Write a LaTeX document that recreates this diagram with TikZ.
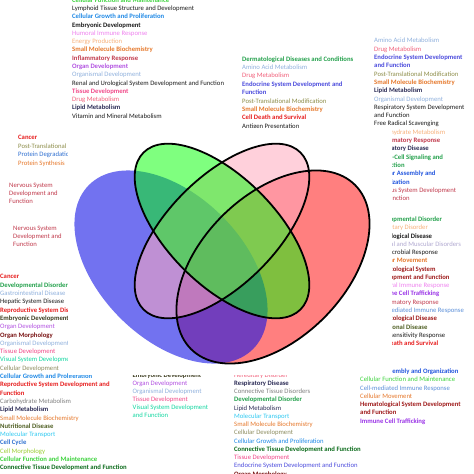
\documentclass[tikz,border=0pt]{standalone}
\usepackage{fontspec}
\setmainfont{Carlito}
\usepackage{tikz}
\usetikzlibrary{calc}
\usepackage{xcolor}

\definecolor{tBlack}{HTML}{1A1A1A}
\definecolor{tLime}{HTML}{3CD23C}
\definecolor{tSky}{HTML}{1E88E5}
\definecolor{tViolet}{HTML}{EE82EE}
\definecolor{tPeach}{HTML}{F6B07A}
\definecolor{tOrange}{HTML}{E5772A}
\definecolor{tCrimson}{HTML}{C0394B}
\definecolor{tPurple}{HTML}{B150E0}
\definecolor{tSteel}{HTML}{8FB0DC}
\definecolor{tPink}{HTML}{F04888}
\definecolor{tRose}{HTML}{F0607A}
\definecolor{tNavy}{HTML}{2B2B55}
\definecolor{tGreen}{HTML}{23A04B}
\definecolor{tIndigo}{HTML}{4B4BDC}
\definecolor{tOlive}{HTML}{8C8C48}
\definecolor{tRed}{HTML}{E61E1E}
\definecolor{tRoyal}{HTML}{2255DD}
\definecolor{tLilac}{HTML}{B0A8D0}
\definecolor{tGray}{HTML}{7F7F7F}
\definecolor{tMaroon}{HTML}{9E1A1A}
\definecolor{tMoss}{HTML}{4E5E22}
\definecolor{tCyan}{HTML}{2EC8F0}
\definecolor{tCobalt}{HTML}{2E6FD0}
\definecolor{tChart}{HTML}{9ACD32}
\definecolor{tForest}{HTML}{0B6B1B}
\definecolor{tAqua}{HTML}{12D6A0}
\definecolor{tKhaki}{HTML}{8B8B5E}
\definecolor{tDeepRed}{HTML}{7A1515}
\definecolor{tGrape}{HTML}{9932E6}
\definecolor{tCornf}{HTML}{5B8FD8}
\definecolor{tUmber}{HTML}{3B3B1E}

\definecolor{setBlue}{RGB}{20,20,230}
\definecolor{setRed}{RGB}{255,0,0}
\definecolor{setPink}{RGB}{255,170,190}
\definecolor{setGreen}{RGB}{0,255,0}

\newcommand{\termfont}{\fontsize{6.7}{8.3}\selectfont}
% one column of terms: name, x, first baseline, step, list
\newcommand{\termlist}[5]{%
  \foreach \clr/\wt/\txt [count=\n from 0] in {#5}
    \node[term, text=\clr, font=\termfont\wt] (#1-\n) at (#2, {#3+#4*\n}) {\txt};}

\begin{document}
\begin{tikzpicture}[x=1pt, y=-1pt,
    term/.style={anchor=base west, inner sep=0pt},
    setfill/.style={fill=#1, draw=none},
    setline/.style={draw=black, line width=1.8pt}]
  \useasboundingbox (0,0) rectangle (474,474);
  \clip (0,0) rectangle (474,474);

  % term lists
  \termlist{tl}{72}{2.2}{8.28}{
    tLime/\bfseries/Cellular Function and Maintenance,
    tBlack/\mdseries/Lymphoid Tissue Structure and Development,
    tSky/\bfseries/Cellular Growth and Proliferation,
    tBlack/\bfseries/Embryonic Development,
    tViolet/\mdseries/Humoral Immune Response,
    tPeach/\mdseries/Energy Production,
    tOrange/\bfseries/Small Molecule Biochemistry,
    tCrimson/\bfseries/Inflammatory Response,
    tPurple/\bfseries/Organ Development,
    tSteel/\mdseries/Organismal Development,
    tBlack/\mdseries/Renal and Urological System Development and Function,
    tPink/\bfseries/Tissue Development,
    tRose/\mdseries/Drug Metabolism,
    tNavy/\bfseries/Lipid Metabolism,
    tBlack/\mdseries/Vitamin and Mineral Metabolism}

  \termlist{tm}{242}{61.2}{8.36}{
    tGreen/\bfseries/Dermatological Diseases and Conditions,
    tSteel/\mdseries/Amino Acid Metabolism,
    tRose/\mdseries/Drug Metabolism,
    tIndigo/\bfseries/Endocrine System Development and,
    tIndigo/\bfseries/Function,
    tOlive/\mdseries/Post-Translational Modification,
    tOrange/\bfseries/Small Molecule Biochemistry,
    tRed/\bfseries/Cell Death and Survival,
    tBlack/\mdseries/Antigen Presentation}

  \termlist{tr}{374}{42.9}{8.3}{
    tSteel/\mdseries/Amino Acid Metabolism,
    tRose/\mdseries/Drug Metabolism,
    tIndigo/\bfseries/Endocrine System Development,
    tIndigo/\bfseries/and Function,
    tOlive/\mdseries/Post-Translational Modification,
    tOrange/\bfseries/Small Molecule Biochemistry,
    tNavy/\bfseries/Lipid Metabolism,
    tSteel/\mdseries/Organismal Development,
    tBlack/\mdseries/Respiratory System Development,
    tBlack/\mdseries/and Function,
    tBlack/\mdseries/Free Radical Scavenging,
    tPeach/\mdseries/Carbohydrate Metabolism,
    tCrimson/\bfseries/Inflammatory Response,
    tNavy/\bfseries/Respiratory Disease,
    tGreen/\bfseries/Cell-To-Cell Signaling and,
    tGreen/\bfseries/Interaction,
    tRoyal/\bfseries/Cellular Assembly and,
    tRoyal/\bfseries/Organization,
    tCrimson/\mdseries/Nervous System Development,
    tCrimson/\mdseries/and Function}

  \termlist{rm}{374}{221.5}{8.27}{
    tGreen/\bfseries/Developmental Disorder,
    tPeach/\mdseries/Hereditary Disorder,
    tBlack/\bfseries/Neurological Disease,
    tLilac/\mdseries/Skeletal and Muscular Disorders,
    tBlack/\mdseries/Antimicrobial Response,
    tOrange/\bfseries/Cellular Movement,
    tMaroon/\bfseries/Hematological System,
    tMaroon/\bfseries/Development and Function,
    tViolet/\mdseries/Humoral Immune Response,
    tGrape/\bfseries/Immune Cell Trafficking,
    tCrimson/\mdseries/Inflammatory Response,
    tCornf/\mdseries/Cell-mediated Immune Response,
    tMaroon/\bfseries/Hematological Disease,
    tMoss/\bfseries/Nutritional Disease,
    tBlack/\mdseries/Hypersensitivity Response,
    tRed/\bfseries/Cell Death and Survival}

  \termlist{br}{360}{373.7}{8.25}{
    tRoyal/\bfseries/Cellular Assembly and Organization,
    tLime/\mdseries/Cellular Function and Maintenance,
    tCornf/\mdseries/Cell-mediated Immune Response,
    tOrange/\mdseries/Cellular Movement,
    tMaroon/\bfseries/Hematological System Development,
    tMaroon/\bfseries/and Function,
    tGrape/\bfseries/Immune Cell Trafficking}

  \termlist{la}{18}{139.5}{8.5}{
    tRed/\bfseries/Cancer,
    tOlive/\mdseries/Post-Translational Modification,
    tCobalt/\mdseries/Protein Degradation,
    tOrange/\mdseries/Protein Synthesis}

  \termlist{lb}{9}{187.5}{8.2}{
    tCrimson/\mdseries/Nervous System,
    tCrimson/\mdseries/Development and,
    tCrimson/\mdseries/Function}

  \termlist{lc}{13}{230.5}{8.0}{
    tCrimson/\mdseries/Nervous System,
    tCrimson/\mdseries/Development and,
    tCrimson/\mdseries/Function}

  \termlist{ld}{0}{278.9}{8.3}{
    tRed/\bfseries/Cancer,
    tGreen/\bfseries/Developmental Disorder,
    tSteel/\mdseries/Gastrointestinal Disease,
    tBlack/\mdseries/Hepatic System Disease,
    tRed/\bfseries/Reproductive System Disease,
    tUmber/\bfseries/Embryonic Development,
    tPurple/\mdseries/Organ Development,
    tDeepRed/\bfseries/Organ Morphology,
    tSteel/\mdseries/Organismal Development,
    tPink/\mdseries/Tissue Development,
    tAqua/\mdseries/Visual System Development,
    tKhaki/\mdseries/Cellular Development,
    tSky/\bfseries/Cellular Growth and Proliferation,
    tRed/\bfseries/Reproductive System Development and,
    tRed/\bfseries/Function,
    tGray/\mdseries/Carbohydrate Metabolism,
    tNavy/\bfseries/Lipid Metabolism,
    tOrange/\mdseries/Small Molecule Biochemistry,
    tMoss/\bfseries/Nutritional Disease,
    tCyan/\mdseries/Molecular Transport,
    tCobalt/\bfseries/Cell Cycle,
    tChart/\mdseries/Cell Morphology,
    tLime/\bfseries/Cellular Function and Maintenance,
    tForest/\bfseries/Connective Tissue Development and Function}

  \termlist{ba}{132.5}{377.2}{8.15}{
    tUmber/\bfseries/Embryonic Development,
    tPurple/\mdseries/Organ Development,
    tSteel/\mdseries/Organismal Development,
    tPink/\mdseries/Tissue Development,
    tAqua/\mdseries/Visual System Development,
    tAqua/\mdseries/and Function}

  \termlist{bb}{234}{377.2}{8.25}{
    tRose/\mdseries/Hereditary Disorder,
    tNavy/\bfseries/Respiratory Disease,
    tGray/\mdseries/Connective Tissue Disorders,
    tGreen/\bfseries/Developmental Disorder,
    tNavy/\mdseries/Lipid Metabolism,
    tCyan/\mdseries/Molecular Transport,
    tOrange/\mdseries/Small Molecule Biochemistry,
    tKhaki/\mdseries/Cellular Development,
    tSky/\mdseries/Cellular Growth and Proliferation,
    tForest/\bfseries/Connective Tissue Development and Function,
    tPink/\mdseries/Tissue Development,
    tIndigo/\mdseries/Endocrine System Development and Function,
    tDeepRed/\bfseries/Organ Morphology}

  % diagram area
  \fill[white] (68,128) rectangle (392,375);

  \coordinate (cBlue) at (171,267);
  \coordinate (cRed) at (273,267);
  \coordinate (cMid) at (222,231);

  \fill[setfill=setRed, opacity=0.5, rotate around={45:(cRed)}] (cRed) ellipse [x radius=116pt, y radius=72pt];
  \fill[setfill=setBlue, opacity=0.6, rotate around={-45:(cBlue)}] (cBlue) ellipse [x radius=116pt, y radius=72pt];
  \fill[setfill=setPink, opacity=0.55, rotate around={45:(cMid)}] (cMid) ellipse [x radius=111pt, y radius=54pt];
  \fill[setfill=setGreen, opacity=0.5, rotate around={-45:(cMid)}] (cMid) ellipse [x radius=111pt, y radius=54pt];

  \draw[setline, rotate around={45:(cMid)}] (cMid) ellipse [x radius=111pt, y radius=54pt];
  \draw[setline, rotate around={-45:(cMid)}] (cMid) ellipse [x radius=111pt, y radius=54pt];
  \draw[setline, rotate around={45:(cRed)}] (cRed) ellipse [x radius=116pt, y radius=72pt];
\end{tikzpicture}
\end{document}
